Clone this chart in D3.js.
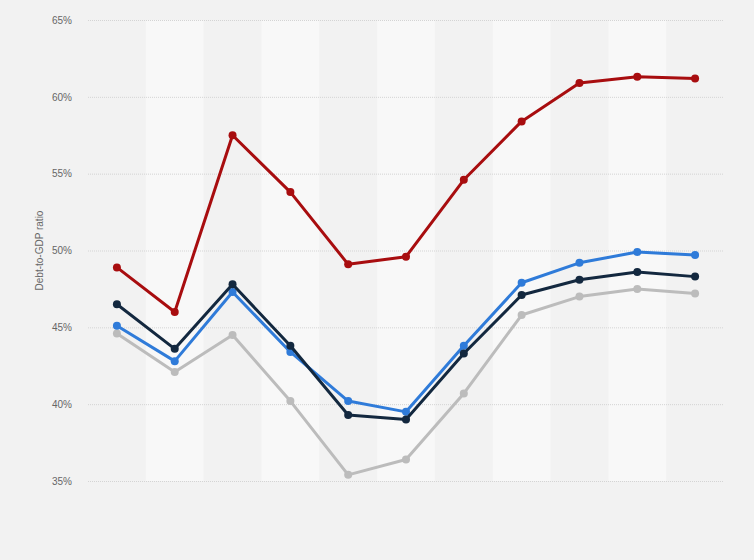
<!DOCTYPE html>
<html>
<head>
<meta charset="utf-8">
<script src="https://cdn.jsdelivr.net/npm/d3@7"></script>
<style>
  html, body { margin: 0; padding: 0; background: #f2f2f2; }
  svg { display: block; font-family: Arial, "Liberation Sans", sans-serif; }
</style>
</head>
<body>
<svg id="chart" width="754" height="560"></svg>
<script>
const categories = ["1","2","3","4","5","6","7","8","9","10","11"];
const yTicks = [35, 40, 45, 50, 55, 60, 65];
const seriesNames = ["Red series", "Navy series", "Blue series", "Gray series"];
const redValues  = [48.9, 46.0, 57.5, 53.8, 49.1, 49.6, 54.6, 58.4, 60.9, 61.3, 61.2];
const navyValues = [46.5, 43.6, 47.8, 43.8, 39.3, 39.0, 43.3, 47.1, 48.1, 48.6, 48.3];
const blueValues = [45.1, 42.8, 47.3, 43.4, 40.2, 39.5, 43.8, 47.9, 49.2, 49.9, 49.7];
const grayValues = [44.6, 42.1, 44.5, 40.2, 35.4, 36.4, 40.7, 45.8, 47.0, 47.5, 47.2];
const colors = ["#a80d0f", "#13283f", "#2f7bd9", "#bcbcbc"];

const svg = d3.select("#chart");
const W = 754, H = 560;
const m = { left: 88, right: 30, top: 20, bottom: 79 };
const iw = W - m.left - m.right, ih = H - m.top - m.bottom;

svg.append("rect").attr("width", W).attr("height", H).attr("fill", "#f2f2f2");

const x = d3.scaleBand().domain(categories).range([m.left, m.left + iw]);
const y = d3.scaleLinear().domain([35, 65]).range([m.top + ih, m.top]);

// alternating bands
svg.append("g").selectAll("rect").data(categories.filter((d, i) => i % 2 === 1)).join("rect")
  .attr("x", d => x(d)).attr("y", y(65)).attr("width", x.bandwidth())
  .attr("height", y(35) - y(65)).attr("fill", "#f8f8f8");

// y axis gridlines
const yAxis = d3.axisLeft(y).tickValues(yTicks).tickFormat(d => d + "%").tickSize(-iw).tickPadding(16);
const gy = svg.append("g").attr("transform", `translate(${m.left},0)`).call(yAxis);
gy.select(".domain").remove();
gy.selectAll(".tick line").attr("stroke", "#d4d4d4").attr("stroke-width", 1).attr("stroke-dasharray", "1,1");
gy.selectAll(".tick text").attr("fill", "#666").attr("font-size", 10);

svg.append("text")
  .attr("transform", `translate(43,${m.top + ih / 2}) rotate(-90)`)
  .attr("text-anchor", "middle").attr("fill", "#666").attr("font-size", 10)
  .text("Debt-to-GDP ratio");

const series = [grayValues, blueValues, navyValues, redValues];
const sColors = [colors[3], colors[2], colors[1], colors[0]];
const line = d3.line().x((d, i) => x(categories[i]) + x.bandwidth() / 2).y(d => y(d));

series.forEach((vals, k) => {
  const g = svg.append("g");
  g.append("path").datum(vals).attr("d", line).attr("fill", "none")
    .attr("stroke", sColors[k]).attr("stroke-width", 3).attr("stroke-linejoin", "round");
  g.selectAll("circle").data(vals).join("circle")
    .attr("cx", (d, i) => x(categories[i]) + x.bandwidth() / 2)
    .attr("cy", d => y(d)).attr("r", 4).attr("fill", sColors[k]);
});
</script>
</body>
</html>
